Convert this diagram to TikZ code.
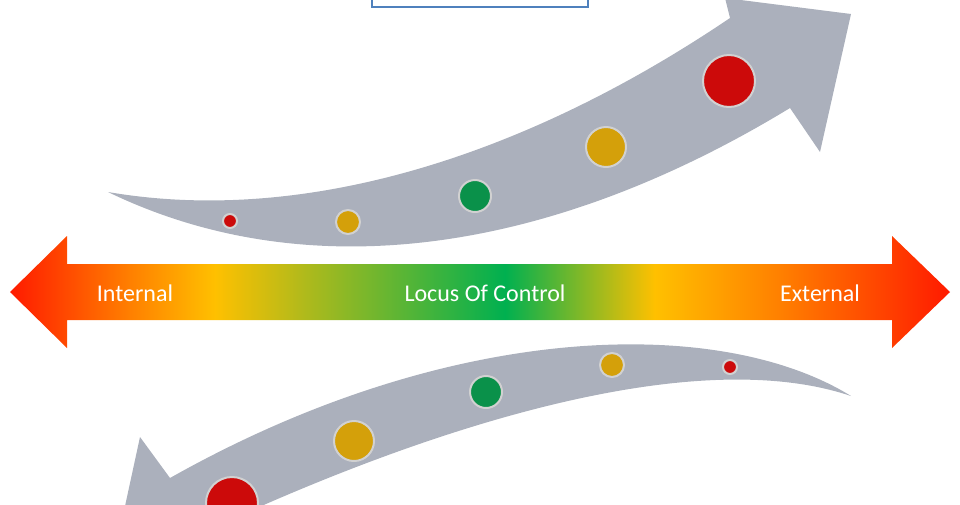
\documentclass[tikz,border=0pt]{standalone}
\usepackage{fontspec}
\setmainfont{Carlito}
\definecolor{rr}{HTML}{FF1A00}
\definecolor{oo}{HTML}{FF8000}
\definecolor{yy}{HTML}{FFC000}
\definecolor{ol}{HTML}{B4BA1A}
\definecolor{gg}{HTML}{00B050}
\definecolor{band}{HTML}{ABB0BC}
\definecolor{cred}{HTML}{CC0A0A}
\definecolor{cgold}{HTML}{D4A00A}
\definecolor{cgreen}{HTML}{0A914A}
\definecolor{boxblue}{HTML}{4F81BD}
\pgfdeclarehorizontalshading{locus}{100bp}{
color(0bp)=(rr);color(25.5bp)=(rr);color(31.8bp)=(oo);color(36.2bp)=(yy);color(40.6bp)=(ol);
color(51.3bp)=(gg);color(59.1bp)=(yy);color(65.6bp)=(oo);color(74.5bp)=(rr);color(100bp)=(rr)}
\begin{document}
\begin{tikzpicture}[x=1pt,y=-1pt,
  dot/.style={circle,draw=black!18,line width=2pt,inner sep=0pt},
  lbl/.style={text=white,font=\fontsize{24}{26}\selectfont}]
\useasboundingbox (0,0) rectangle (960,504);
\clip (0,0) rectangle (960,504);
\draw[draw=boxblue,line width=1.6pt] (372,-5) rectangle (588,7);
% upper arrow
\fill[band] (108,192) .. controls (300,285) and (540,260) .. (790,108) -- (820,152) -- (851,14) -- (725,-2) -- (730,18)
  .. controls (520,160) and (300,225) .. (108,192) -- cycle;
% lower arrow
\fill[band] (851,396) .. controls (720,315) and (450,320) .. (170,478) -- (140,437) -- (122,520) -- (230,520)
  .. controls (450,420) and (700,345) .. (851,396) -- cycle;
% main arrow
\begin{scope}
\clip (10,292) -- (67,236) -- (67,264) -- (892,264) -- (892,236) -- (950,292) -- (892,348) -- (892,320) -- (67,320) -- (67,348) -- cycle;
\shade[shading=locus] (0,200) rectangle (960,380);
\end{scope}
\node[lbl] (int) at (135,293) {Internal};
\node[lbl] (loc) at (485,293) {Locus Of Control};
\node[lbl] (ext) at (820,293) {External};
% dots upper
\node[dot,fill=cred,minimum size=14pt] (u1) at (230,221) {};
\node[dot,fill=cgold,minimum size=24pt] (u2) at (348,222) {};
\node[dot,fill=cgreen,minimum size=32pt] (u3) at (475,196) {};
\node[dot,fill=cgold,minimum size=40pt] (u4) at (606,147) {};
\node[dot,fill=cred,minimum size=52pt] (u5) at (729,81) {};
% dots lower
\node[dot,fill=cred,minimum size=14pt] (l1) at (730,367) {};
\node[dot,fill=cgold,minimum size=24pt] (l2) at (612,365) {};
\node[dot,fill=cgreen,minimum size=32pt] (l3) at (486,392) {};
\node[dot,fill=cgold,minimum size=40pt] (l4) at (354,441) {};
\node[dot,fill=cred,minimum size=52pt] (l5) at (232,503) {};
\end{tikzpicture}
\end{document}
